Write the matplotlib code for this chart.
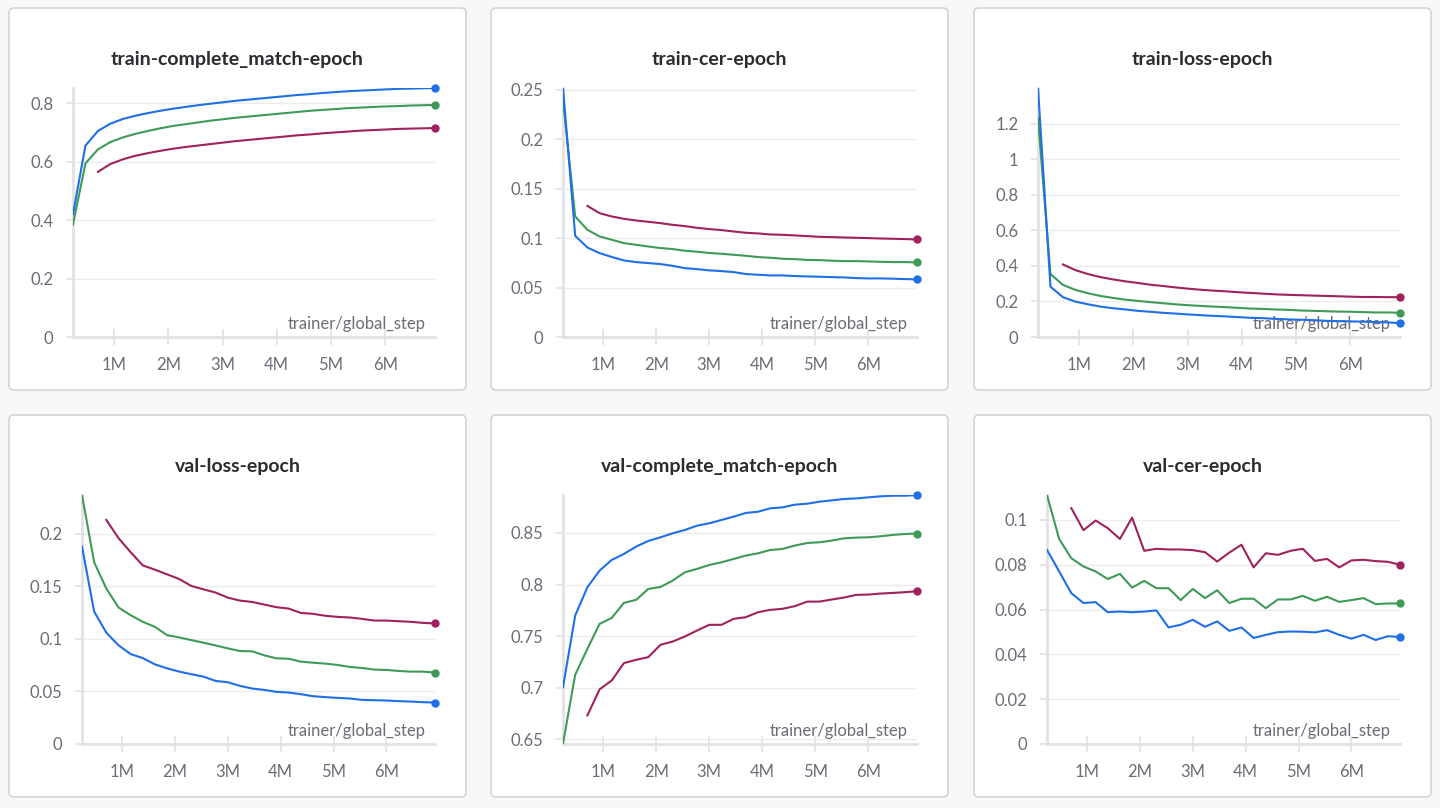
# W&B style training curves: 3 runs, 6 metric panels
import numpy as np
import matplotlib.pyplot as plt
from matplotlib.patches import FancyBboxPatch
from matplotlib.transforms import IdentityTransform
from matplotlib.ticker import FuncFormatter, FixedLocator

plt.rcParams['font.family'] = ['Lato', 'DejaVu Sans']

# ------------------------------------------------------------
# data  (x = trainer/global_step in millions, one point per epoch)
# ------------------------------------------------------------
steps = [0.24, 0.47, 0.70, 0.93, 1.16, 1.39, 1.62, 1.85, 2.08, 2.31,
         2.54, 2.77, 3.00, 3.23, 3.46, 3.69, 3.92, 4.15, 4.38, 4.61,
         4.85, 5.08, 5.31, 5.54, 5.77, 6.00, 6.23, 6.46, 6.69, 6.92]
late_start = 2  # third run logs from the 3rd epoch on

run_colors = ['#1f6fe6', '#3f9a58', '#a0225c']  # blue, green, maroon

# train-complete_match-epoch
train_cm_blue = [0.420, 0.655, 0.705, 0.730, 0.746, 0.757, 0.766, 0.774, 0.781, 0.787,
                 0.793, 0.798, 0.803, 0.808, 0.812, 0.816, 0.820, 0.824, 0.828, 0.831,
                 0.835, 0.838, 0.841, 0.843, 0.845, 0.847, 0.849, 0.850, 0.851, 0.852]
train_cm_green = [0.385, 0.594, 0.642, 0.667, 0.683, 0.695, 0.705, 0.714, 0.722, 0.728,
                  0.734, 0.740, 0.745, 0.750, 0.754, 0.758, 0.762, 0.766, 0.770, 0.774,
                  0.777, 0.780, 0.783, 0.785, 0.787, 0.789, 0.790, 0.792, 0.793, 0.794]
train_cm_maroon = [0.565, 0.592, 0.608, 0.620, 0.629, 0.637, 0.644, 0.650,
                   0.655, 0.660, 0.665, 0.670, 0.674, 0.678, 0.682, 0.686, 0.690, 0.693,
                   0.697, 0.700, 0.703, 0.706, 0.708, 0.710, 0.712, 0.713, 0.714, 0.715]

# train-cer-epoch
train_cer_blue = [0.252, 0.1024, 0.0906, 0.0849, 0.0810, 0.0775, 0.0758, 0.0748, 0.0738, 0.0720,
                  0.0697, 0.0687, 0.0674, 0.0667, 0.0657, 0.0637, 0.0630, 0.0623, 0.0623, 0.0617,
                  0.0613, 0.0610, 0.0606, 0.0603, 0.0596, 0.0593, 0.0593, 0.0590, 0.0586, 0.0583]
train_cer_green = [0.240, 0.1220, 0.1085, 0.1018, 0.0984, 0.0950, 0.0933, 0.0916, 0.0900, 0.0890,
                   0.0873, 0.0863, 0.0850, 0.0842, 0.0832, 0.0822, 0.0809, 0.0802, 0.0792, 0.0788,
                   0.0780, 0.0778, 0.0772, 0.0768, 0.0768, 0.0765, 0.0761, 0.0758, 0.0758, 0.0755]
train_cer_maroon = [0.1327, 0.1253, 0.1220, 0.1196, 0.1179, 0.1166, 0.1152, 0.1135,
                    0.1122, 0.1105, 0.1092, 0.1082, 0.1068, 0.1055, 0.1048, 0.1038, 0.1034, 0.1028,
                    0.1021, 0.1014, 0.1011, 0.1007, 0.1004, 0.1001, 0.0997, 0.0994, 0.0991, 0.0987]

# train-loss-epoch
train_loss_blue = [1.400, 0.283, 0.224, 0.199, 0.184, 0.171, 0.162, 0.155, 0.147, 0.142,
                   0.136, 0.132, 0.127, 0.123, 0.119, 0.116, 0.112, 0.108, 0.106, 0.102,
                   0.099, 0.097, 0.095, 0.091, 0.089, 0.088, 0.086, 0.084, 0.082, 0.078]
train_loss_green = [1.230, 0.354, 0.293, 0.265, 0.246, 0.231, 0.220, 0.210, 0.203, 0.196,
                    0.190, 0.184, 0.179, 0.175, 0.171, 0.168, 0.164, 0.160, 0.158, 0.155,
                    0.153, 0.149, 0.147, 0.145, 0.143, 0.142, 0.140, 0.138, 0.138, 0.136]
train_loss_maroon = [0.408, 0.376, 0.354, 0.337, 0.324, 0.313, 0.304, 0.294,
                     0.287, 0.279, 0.272, 0.266, 0.261, 0.257, 0.252, 0.248, 0.244, 0.240,
                     0.237, 0.235, 0.233, 0.231, 0.229, 0.227, 0.225, 0.225, 0.224, 0.224]

# val-loss-epoch
val_loss_blue = [0.188, 0.126, 0.106, 0.094, 0.0856, 0.0818, 0.0758, 0.0720, 0.0689, 0.0664,
                 0.0641, 0.0600, 0.0588, 0.0553, 0.0528, 0.0515, 0.0496, 0.0490, 0.0474, 0.0455,
                 0.0446, 0.0439, 0.0433, 0.0420, 0.0417, 0.0414, 0.0408, 0.0404, 0.0398, 0.0395]
val_loss_green = [0.237, 0.173, 0.148, 0.130, 0.1226, 0.1163, 0.1115, 0.1036, 0.1014, 0.0989,
                  0.0964, 0.0938, 0.0910, 0.0885, 0.0882, 0.0844, 0.0815, 0.0812, 0.0784, 0.0774,
                  0.0765, 0.0752, 0.0733, 0.0724, 0.0708, 0.0705, 0.0695, 0.0689, 0.0689, 0.0680]
val_loss_maroon = [0.2133, 0.1960, 0.1826, 0.1700, 0.1659, 0.1615, 0.1570, 0.1504,
                   0.1472, 0.1441, 0.1393, 0.1365, 0.1352, 0.1327, 0.1302, 0.1289, 0.1248, 0.1239,
                   0.1220, 0.1210, 0.1204, 0.1191, 0.1175, 0.1175, 0.1169, 0.1163, 0.1153, 0.1147]

# val-complete_match-epoch
val_cm_blue = [0.7006, 0.7700, 0.7974, 0.8135, 0.8239, 0.8297, 0.8368, 0.8423, 0.8458, 0.8497,
               0.8529, 0.8571, 0.8594, 0.8626, 0.8658, 0.8694, 0.8706, 0.8739, 0.8748, 0.8774,
               0.8784, 0.8803, 0.8816, 0.8829, 0.8835, 0.8845, 0.8855, 0.8861, 0.8861, 0.8868]
val_cm_green = [0.6458, 0.7126, 0.7377, 0.7619, 0.7677, 0.7823, 0.7852, 0.7958, 0.7977, 0.8039,
                0.8119, 0.8152, 0.8190, 0.8216, 0.8248, 0.8281, 0.8303, 0.8335, 0.8345, 0.8377,
                0.8403, 0.8410, 0.8426, 0.8448, 0.8455, 0.8458, 0.8468, 0.8481, 0.8490, 0.8494]
val_cm_maroon = [0.6732, 0.6984, 0.7071, 0.7239, 0.7271, 0.7297, 0.7416, 0.7448,
                 0.7497, 0.7555, 0.7610, 0.7610, 0.7668, 0.7684, 0.7732, 0.7755, 0.7765, 0.7790,
                 0.7835, 0.7835, 0.7855, 0.7874, 0.7900, 0.7903, 0.7913, 0.7919, 0.7926, 0.7935]

# val-cer-epoch
val_cer_blue = [0.0866, 0.0770, 0.0673, 0.0629, 0.0633, 0.0588, 0.0591, 0.0588, 0.0591, 0.0596,
                0.0520, 0.0532, 0.0554, 0.0523, 0.0547, 0.0505, 0.0520, 0.0473, 0.0487, 0.0499,
                0.0502, 0.0501, 0.0498, 0.0508, 0.0487, 0.0470, 0.0487, 0.0464, 0.0481, 0.0477]
val_cer_green = [0.1111, 0.0915, 0.0829, 0.0792, 0.0770, 0.0736, 0.0759, 0.0698, 0.0728, 0.0695,
                 0.0695, 0.0642, 0.0692, 0.0651, 0.0686, 0.0629, 0.0648, 0.0648, 0.0606, 0.0645,
                 0.0645, 0.0661, 0.0639, 0.0657, 0.0634, 0.0642, 0.0651, 0.0624, 0.0627, 0.0627]
val_cer_maroon = [0.1052, 0.0954, 0.0997, 0.0963, 0.0915, 0.1010, 0.0862, 0.0871,
                  0.0868, 0.0868, 0.0865, 0.0856, 0.0814, 0.0854, 0.0889, 0.0788, 0.0851, 0.0844,
                  0.0862, 0.0871, 0.0817, 0.0826, 0.0788, 0.0819, 0.0822, 0.0816, 0.0813, 0.0800]

x_ticks = [1, 2, 3, 4, 5, 6]
x_tick_labels = ['1M', '2M', '3M', '4M', '5M', '6M']

# title, (blue, green, maroon), y ticks, y limits
panels = [
    ('train-complete_match-epoch', (train_cm_blue, train_cm_green, train_cm_maroon),
     [0, 0.2, 0.4, 0.6, 0.8], (0, 0.852)),
    ('train-cer-epoch', (train_cer_blue, train_cer_green, train_cer_maroon),
     [0, 0.05, 0.1, 0.15, 0.2, 0.25], (0, 0.252)),
    ('train-loss-epoch', (train_loss_blue, train_loss_green, train_loss_maroon),
     [0, 0.2, 0.4, 0.6, 0.8, 1, 1.2], (0, 1.40)),
    ('val-loss-epoch', (val_loss_blue, val_loss_green, val_loss_maroon),
     [0, 0.05, 0.1, 0.15, 0.2], (0, 0.237)),
    ('val-complete_match-epoch', (val_cm_blue, val_cm_green, val_cm_maroon),
     [0.65, 0.7, 0.75, 0.8, 0.85], (0.6455, 0.8868)),
    ('val-cer-epoch', (val_cer_blue, val_cer_green, val_cer_maroon),
     [0, 0.02, 0.04, 0.06, 0.08, 0.1], (0, 0.1111)),
]

# ------------------------------------------------------------
# layout (pixel boxes, top-left origin)
# ------------------------------------------------------------
W, H = 1440, 808
card_x = [9, 491, 974]
card_y = [8, 415]
card_w, card_h = 457, 382
axes_left_off = [64, 72, 64, 73, 72, 73]

fig = plt.figure(figsize=(W / 100, H / 100), dpi=100)
fig.patch.set_facecolor('#f8f8f9')

grid_c = '#ececec'
axis_c = '#e2e2e4'
tick_txt = '#6c6c78'

for k, (title, series, yticks, ylim) in enumerate(panels):
    cx = card_x[k % 3]
    cy = card_y[k // 3]

    card = FancyBboxPatch((cx, H - cy - card_h), card_w, card_h,
                          boxstyle='round,pad=0,rounding_size=5',
                          transform=IdentityTransform(),
                          facecolor='white', edgecolor='#d4d4d8', linewidth=1.2,
                          zorder=-10)
    fig.patches.append(card)

    fig.text((cx + card_w / 2) / W, 1 - (cy + 52) / H, title,
             ha='center', va='center', fontsize=14, fontweight='bold', color='#2b2b30')

    left = cx + axes_left_off[k]
    right = cx + 426
    top = cy + 80
    bottom = cy + 329
    ax = fig.add_axes([left / W, 1 - bottom / H, (right - left) / W, (bottom - top) / H])
    ax.set_facecolor('none')

    blue, green, maroon = series
    for vals, xs, col in [(maroon, steps[late_start:], run_colors[2]),
                          (green, steps, run_colors[1]),
                          (blue, steps, run_colors[0])]:
        ax.plot(xs, vals, color=col, lw=1.5, solid_joinstyle='round', zorder=3)
        ax.plot(xs[-1], vals[-1], 'o', color=col, ms=5, zorder=4, clip_on=False)

    ax.set_xlim(steps[0], steps[-1])
    ax.set_ylim(*ylim)

    ax.xaxis.set_major_locator(FixedLocator(x_ticks))
    ax.set_xticklabels(x_tick_labels)
    ax.yaxis.set_major_locator(FixedLocator(yticks))
    ax.yaxis.set_major_formatter(FuncFormatter(lambda v, p: f"{round(v, 4):g}"))

    ax.grid(axis='y', color=grid_c, lw=1.0)
    ax.set_axisbelow(True)
    for side in ['top', 'right']:
        ax.spines[side].set_visible(False)
    for side in ['left', 'bottom']:
        ax.spines[side].set_color(axis_c)
        ax.spines[side].set_linewidth(2.0)

    ax.tick_params(axis='x', direction='inout', length=12, width=1.2, color=axis_c,
                   labelsize=12, labelcolor=tick_txt, pad=8.5)
    ax.tick_params(axis='y', direction='out', length=5, width=1.2, color=axis_c,
                   labelsize=12, labelcolor=tick_txt, pad=9)

    ax.text(1 - 9 / (right - left), 13 / (bottom - top), 'trainer/global_step',
            transform=ax.transAxes, ha='right', va='center',
            fontsize=12, color=tick_txt, zorder=1)

fig.savefig('out.png', dpi=100, facecolor=fig.get_facecolor())
